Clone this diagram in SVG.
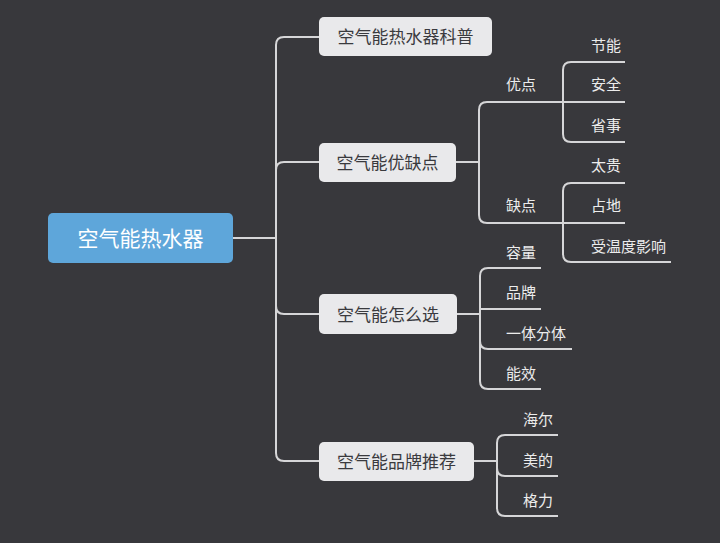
<svg xmlns="http://www.w3.org/2000/svg" width="720" height="543" viewBox="0 0 720 543">
<style>
.bg{fill:#38383c}
.box{fill:#e9e9eb}
.bt{font-family:"Noto Sans CJK SC","Noto Sans",sans-serif;font-size:17px;fill:#3a3a3e;dominant-baseline:central}
.st{font-family:"Noto Sans CJK SC","Noto Sans",sans-serif;font-size:15px;fill:#ececec;dominant-baseline:central}
.ln{fill:none;stroke:#d6d6d8;stroke-width:2}
</style>
<rect class="bg" x="0" y="0" width="720" height="543"/>
<g id="connectors" class="ln">
<path d="M233 238H276"/>
<path d="M276 238V45Q276 37 284 37H319"/>
<path d="M276 238V170Q276 162 284 162H319"/>
<path d="M276 238V306Q276 314 284 314H319"/>
<path d="M276 238V453Q276 461 284 461H319"/>
<path d="M456 162H479"/>
<path d="M479 162V110Q479 102 487 102H563"/>
<path d="M479 162V215Q479 223 487 223H563"/>
<path d="M563 102V70Q563 62 571 62H625"/>
<path d="M563 102H625"/>
<path d="M563 102V134Q563 142 571 142H625"/>
<path d="M563 223V191Q563 183 571 183H625"/>
<path d="M563 223H625"/>
<path d="M563 223V254Q563 262 571 262H671"/>
<path d="M457 314H480"/>
<path d="M480 314V276Q480 268 488 268H541"/>
<path d="M480 309H541"/>
<path d="M480 314V341Q480 349 488 349H572"/>
<path d="M480 314V381Q480 389 488 389H541"/>
<path d="M474 461H497"/>
<path d="M497 461V443Q497 435 505 435H558"/>
<path d="M497 461V468Q497 476 505 476H558"/>
<path d="M497 461V508Q497 516 505 516H558"/>
</g>
<g id="root">
<rect x="48" y="213" width="185" height="50" rx="5" fill="#5ea6da"/>
<text x="140.5" y="237" text-anchor="middle" font-family="Noto Sans CJK SC, Noto Sans, sans-serif" font-size="21" fill="#ffffff" dominant-baseline="central">空气能热水器</text>
</g>
<g id="b1"><rect class="box" x="319" y="17" width="173" height="39" rx="5"/><text class="bt" x="405.5" y="35.5" text-anchor="middle">空气能热水器科普</text></g>
<g id="b2"><rect class="box" x="319" y="143" width="137" height="39" rx="5"/><text class="bt" x="387.5" y="161.5" text-anchor="middle">空气能优缺点</text></g>
<g id="b3"><rect class="box" x="319" y="294" width="138" height="40" rx="5"/><text class="bt" x="388" y="313" text-anchor="middle">空气能怎么选</text></g>
<g id="b4"><rect class="box" x="319" y="442" width="155" height="39" rx="5"/><text class="bt" x="396.5" y="460.5" text-anchor="middle">空气能品牌推荐</text></g>
<g id="youdian"><text class="st" x="506" y="83">优点</text></g>
<g id="quedian"><text class="st" x="506" y="204">缺点</text></g>
<g id="jieneng"><text class="st" x="591" y="44">节能</text></g>
<g id="anquan"><text class="st" x="591" y="83">安全</text></g>
<g id="shengshi"><text class="st" x="591" y="124">省事</text></g>
<g id="taigui"><text class="st" x="591" y="164">太贵</text></g>
<g id="zhandi"><text class="st" x="591" y="204">占地</text></g>
<g id="wendu"><text class="st" x="591" y="245">受温度影响</text></g>
<g id="rongliang"><text class="st" x="506" y="251">容量</text></g>
<g id="pinpai"><text class="st" x="506" y="291">品牌</text></g>
<g id="yiti"><text class="st" x="506" y="332">一体分体</text></g>
<g id="nengxiao"><text class="st" x="506" y="372">能效</text></g>
<g id="haier"><text class="st" x="523" y="418">海尔</text></g>
<g id="meide"><text class="st" x="523" y="459">美的</text></g>
<g id="geli"><text class="st" x="523" y="499">格力</text></g>
</svg>
